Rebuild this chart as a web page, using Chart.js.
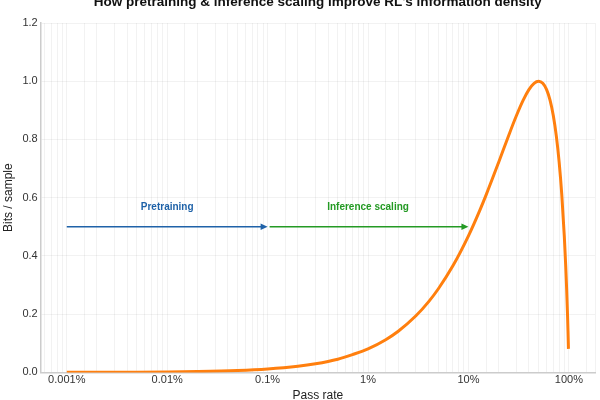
<!DOCTYPE html>
<html>
<head>
<meta charset="utf-8">
<script src="https://cdn.jsdelivr.net/npm/chart.js@4"></script>
<style>
html,body{margin:0;padding:0;background:#fff;}
#wrap{width:600px;height:400px;}
</style>
</head>
<body>
<div id="wrap"><canvas id="c" width="600" height="400"></canvas></div>
<script>
// Pass rate (percent) and bits per sample
const passRate = [0.001, 0.002, 0.005, 0.01, 0.02, 0.05, 0.1, 0.2, 0.3, 0.5, 0.7, 1, 1.5, 2, 3, 4, 5, 7, 10, 13, 15, 20, 25, 30, 35, 40, 45, 50, 55, 60, 65, 70, 75, 80, 85, 90, 93, 95, 97, 98, 99];
const bitsPerSample = [0.0002, 0.0003, 0.0008, 0.0015, 0.0028, 0.0062, 0.0114, 0.0208, 0.0295, 0.0454, 0.0612, 0.0808, 0.1124, 0.1414, 0.1944, 0.2423, 0.2864, 0.3659, 0.469, 0.5574, 0.6098, 0.7219, 0.8113, 0.8813, 0.9341, 0.971, 0.9928, 1.0, 0.9928, 0.971, 0.9341, 0.8813, 0.8113, 0.7219, 0.6098, 0.469, 0.3659, 0.2864, 0.1944, 0.1414, 0.0808];
const decadeLabels = ["0.001%", "0.01%", "0.1%", "1%", "10%", "100%"];
const titleText = "How pretraining & inference scaling improve RL's information density";
const phases = [
  {label: "Pretraining", from: 0.001, to: 0.1, y: 0.5, color: "#1f62a8"},
  {label: "Inference scaling", from: 0.1, to: 10, y: 0.5, color: "#249a24"}
];

const pts = passRate.map((x, i) => ({x: x, y: bitsPerSample[i]}));

const arrowPlugin = {
  id: 'arrows',
  afterDatasetsDraw(chart) {
    const ctx = chart.ctx;
    const xs = chart.scales.x, ys = chart.scales.y;
    phases.forEach((p, i) => {
      let x0 = xs.getPixelForValue(p.from);
      let x1 = xs.getPixelForValue(p.to);
      if (i > 0) x0 += 2;
      const y = ys.getPixelForValue(p.y);
      ctx.save();
      ctx.strokeStyle = p.color;
      ctx.fillStyle = p.color;
      ctx.lineWidth = 1.6;
      ctx.beginPath();
      ctx.moveTo(x0, y);
      ctx.lineTo(x1 - 5, y);
      ctx.stroke();
      ctx.beginPath();
      ctx.moveTo(x1, y);
      ctx.lineTo(x1 - 7, y - 3.2);
      ctx.lineTo(x1 - 7, y + 3.2);
      ctx.closePath();
      ctx.fill();
      ctx.font = "bold 10px 'Liberation Sans', Arial, sans-serif";
      ctx.textAlign = "center";
      ctx.textBaseline = "middle";
      const xm = xs.getPixelForValue(Math.sqrt(p.from * p.to));
      ctx.fillText(p.label, xm, y - 20);
      ctx.restore();
    });
  },
  afterDraw(chart) {
    const ctx = chart.ctx;
    const a = chart.chartArea;
    ctx.save();
    ctx.font = "bold 13.5px 'Liberation Sans', Arial, sans-serif";
    ctx.fillStyle = '#111';
    ctx.textAlign = 'center';
    ctx.textBaseline = 'middle';
    ctx.fillText(titleText, (a.left + a.right) / 2, 2);
    ctx.restore();
  }
};

new Chart(document.getElementById('c'), {
  type: 'line',
  data: {
    datasets: [{
      data: pts,
      borderColor: '#ff7f0e',
      borderWidth: 3,
      pointRadius: 0,
      fill: false,
      cubicInterpolationMode: 'monotone'
    }]
  },
  options: {
    responsive: false,
    animation: false,
    devicePixelRatio: 1,
    layout: {padding: {left: 1, right: 5, top: 23, bottom: -3}},
    plugins: {
      legend: {display: false},
      tooltip: {enabled: false},
      title: {display: false}
    },
    scales: {
      x: {
        type: 'logarithmic',
        min: 0.00055,
        max: 182,
        title: {display: true, text: 'Pass rate', color: '#222', font: {family: "'Liberation Sans', Arial, sans-serif", size: 12}, padding: {top: 1, bottom: 0}},
        grid: {color: 'rgba(0,0,0,0.05)', drawTicks: false},
        border: {color: '#cccccc', width: 1.5},
        ticks: {
          autoSkip: false,
          maxRotation: 0,
          padding: 1,
          color: '#333',
          font: {family: "'Liberation Sans', Arial, sans-serif", size: 11},
          callback: function(v) {
            const e = Math.log10(v);
            const r = Math.round(e);
            if (Math.abs(e - r) < 1e-6 && r >= -3 && r <= 2) return decadeLabels[r + 3];
            return '';
          }
        }
      },
      y: {
        min: 0,
        max: 1.2,
        title: {display: true, text: 'Bits / sample', color: '#222', font: {family: "'Liberation Sans', Arial, sans-serif", size: 12}, padding: {top: 0, bottom: 4}},
        grid: {color: 'rgba(0,0,0,0.05)', drawTicks: false},
        border: {color: '#cccccc', width: 1.5},
        ticks: {
          stepSize: 0.2,
          padding: 3,
          color: '#333',
          font: {family: "'Liberation Sans', Arial, sans-serif", size: 11},
          callback: v => v.toFixed(1)
        }
      }
    }
  },
  plugins: [arrowPlugin]
});
</script>
</body>
</html>
